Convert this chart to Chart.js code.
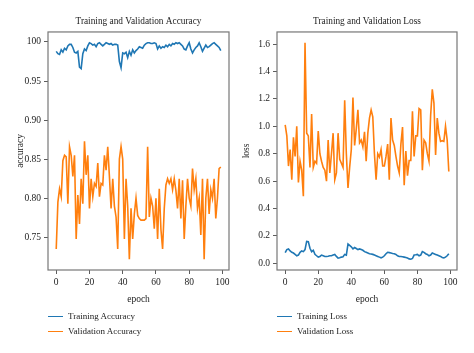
<!DOCTYPE html>
<html>
<head>
<meta charset="utf-8">
<script src="https://cdn.jsdelivr.net/npm/chart.js@4.4.1/dist/chart.umd.min.js"></script>
<style>
  body { margin: 0; background: #fff; }
  #page { position: relative; width: 474px; height: 353px; overflow: hidden; font-family: "Liberation Serif", "DejaVu Serif", serif; color: #222; }
  .pane { position: absolute; top: 0; width: 237px; height: 310px; }
  .legend { position: absolute; font-size: 9px; }
  .legend div { position: relative; height: 15px; line-height: 15px; white-space: nowrap; }
  .legend span.sw { display: inline-block; width: 15px; height: 0; border-top: 1.6px solid; vertical-align: middle; margin-right: 5px; }
</style>
</head>
<body>
<div id="page">
  <div class="pane" style="left:0"><canvas id="accChart" width="237" height="310"></canvas></div>
  <div class="pane" style="left:237px"><canvas id="lossChart" width="237" height="310"></canvas></div>
  <div class="legend" id="accLegend" style="left:48px; top:309px"></div>
  <div class="legend" id="lossLegend" style="left:277px; top:309px"></div>
</div>
<script>
const blue = "#1f77b4";
const orange = "#ff7f0e";

const epochs = Array.from({ length: 100 }, (_, i) => i);
const epochTicks = [0, 20, 40, 60, 80, 100];

const trainAcc = [
    0.988, 0.985, 0.984, 0.990, 0.987, 0.992, 0.990, 0.995, 0.997, 0.997,
    0.993, 0.987, 0.986, 0.988, 0.968, 0.966, 0.985, 0.991, 0.989, 0.995,
    0.999, 0.998, 0.996, 0.997, 0.994, 0.998, 0.999, 0.997, 0.995, 0.997,
    0.999, 0.998, 0.997, 0.998, 0.996, 0.997, 0.997, 0.996, 0.975, 0.967,
    0.986, 0.985, 0.987, 0.980, 0.988, 0.983, 0.990, 0.986, 0.989, 0.991,
    0.994, 0.993, 0.992, 0.996, 0.998, 0.999, 0.999, 0.998, 0.998, 0.999,
    0.998, 0.991, 0.995, 0.992, 0.994, 0.993, 0.996, 0.994, 0.997, 0.995,
    0.998, 0.997, 0.999, 0.998, 0.999, 0.997, 0.995, 0.991, 0.990, 0.995,
    0.999, 0.991, 0.986, 0.990, 0.993, 0.995, 0.999, 0.994, 0.988, 0.992,
    0.996, 0.993, 0.994, 0.996, 0.998, 0.999, 0.997, 0.995, 0.993, 0.989
];
const valAcc = [
    0.735, 0.795, 0.812, 0.802, 0.848, 0.855, 0.853, 0.793, 0.866, 0.855,
    0.828, 0.855, 0.748, 0.804, 0.767, 0.825, 0.793, 0.873, 0.830, 0.855,
    0.787, 0.825, 0.802, 0.819, 0.815, 0.845, 0.802, 0.819, 0.817, 0.855,
    0.836, 0.866, 0.828, 0.787, 0.825, 0.790, 0.776, 0.735, 0.850, 0.866,
    0.850, 0.748, 0.825, 0.790, 0.722, 0.787, 0.748, 0.780, 0.800, 0.778,
    0.774, 0.772, 0.772, 0.772, 0.774, 0.866, 0.776, 0.800, 0.790, 0.761,
    0.800, 0.748, 0.812, 0.760, 0.735, 0.787, 0.817, 0.825, 0.819, 0.825,
    0.811, 0.825, 0.810, 0.787, 0.825, 0.774, 0.823, 0.748, 0.790, 0.825,
    0.800, 0.790, 0.838, 0.811, 0.825, 0.787, 0.800, 0.753, 0.825, 0.722,
    0.800, 0.825, 0.780, 0.811, 0.800, 0.825, 0.774, 0.800, 0.838, 0.840
];
const accTicks = [0.75, 0.80, 0.85, 0.90, 0.95, 1.00];
const accTickLabels = ["0.75", "0.80", "0.85", "0.90", "0.95", "100"];

const trainLoss = [
    0.078, 0.100, 0.105, 0.090, 0.080, 0.075, 0.065, 0.055, 0.060, 0.080,
    0.090, 0.085, 0.100, 0.160, 0.158, 0.110, 0.085, 0.095, 0.065, 0.055,
    0.045, 0.050, 0.060, 0.055, 0.050, 0.050, 0.052, 0.055, 0.055, 0.060,
    0.065, 0.050, 0.038, 0.040, 0.045, 0.048, 0.065, 0.060, 0.140, 0.130,
    0.120, 0.105, 0.115, 0.108, 0.100, 0.105, 0.100, 0.095, 0.085, 0.080,
    0.075, 0.070, 0.068, 0.065, 0.060, 0.055, 0.050, 0.045, 0.040, 0.045,
    0.055, 0.070, 0.080, 0.078, 0.075, 0.072, 0.070, 0.065, 0.055, 0.050,
    0.050, 0.048, 0.045, 0.042, 0.038, 0.032, 0.030, 0.035, 0.060, 0.062,
    0.065, 0.055, 0.060, 0.085, 0.080, 0.070, 0.065, 0.055, 0.060, 0.075,
    0.070, 0.065, 0.060, 0.055, 0.050, 0.042, 0.040, 0.045, 0.055, 0.070
];
const valLoss = [
    1.01, 0.93, 0.71, 0.83, 0.61, 0.92, 0.78, 1.00, 0.59, 0.745,
    0.68, 0.49, 1.61, 0.95, 0.93, 0.70, 1.09, 0.70, 0.745, 0.73,
    0.965, 0.80, 0.745, 0.70, 0.68, 0.60, 0.90, 0.66, 0.80, 0.95,
    0.61, 0.66, 0.95, 0.76, 0.73, 0.70, 1.19, 0.80, 0.55, 0.70,
    0.83, 1.21, 0.86, 0.98, 1.12, 0.88, 0.90, 0.85, 0.96, 0.745,
    0.95, 1.06, 1.12, 1.07, 0.80, 0.61, 0.80, 0.775, 0.83, 0.71,
    0.71, 0.78, 0.87, 0.61, 1.06, 0.90, 0.86, 0.78, 0.71, 0.66,
    0.87, 0.995, 0.57, 0.82, 0.64, 0.75, 0.75, 1.11, 0.78, 0.93,
    0.93, 1.13, 1.12, 0.68, 0.90, 0.88, 0.80, 0.745, 1.08, 1.27,
    1.17, 0.79, 1.06, 0.95, 0.89, 0.895, 0.89, 1.00, 0.90, 0.67
];
const lossTicks = [0.0, 0.2, 0.4, 0.6, 0.8, 1.0, 1.2, 1.4, 1.6];
const lossTickLabels = ["0.0", "0.2", "0.4", "0.6", "0.8", "1.0", "1.2", "1.4", "1.6"];

const fontFamily = '"Liberation Serif", "DejaVu Serif", serif';
const textColor = "#222";

// matplotlib style 5% margins around the data
const withMargin = function (values) {
    const lo = Math.min(...values);
    const hi = Math.max(...values);
    const pad = (hi - lo) * 0.05;
    return { min: lo - pad, max: hi + pad };
};

// box around the plot area, title centred over the plot area like matplotlib
const frame = {
    id: "frame",
    afterLayout(chart) {
        const t = chart.titleBlock;
        if (t) {
            t.left = chart.chartArea.left;
            t.right = chart.chartArea.right;
            t.width = t.right - t.left;
        }
    },
    afterDraw(chart) {
        const a = chart.chartArea;
        const ctx = chart.ctx;
        ctx.save();
        ctx.strokeStyle = "#777";
        ctx.lineWidth = 1.2;
        ctx.strokeRect(a.left, a.top, a.right - a.left, a.bottom - a.top);
        ctx.restore();
    }
};

const makeChart = function (canvasId, cfg) {
    const yRange = withMargin(cfg.series[0].data.concat(cfg.series[1].data));
    const xRange = withMargin(epochs);
    const ctx = document.getElementById(canvasId).getContext("2d");
    return new Chart(ctx, {
        type: "line",
        data: {
            labels: epochs,
            datasets: cfg.series.map(s => ({
                label: s.label,
                data: epochs.map((e, i) => ({ x: e, y: s.data[i] })),
                borderColor: s.color,
                backgroundColor: s.color,
                borderWidth: 1.6,
                pointRadius: 0,
                tension: 0,
                fill: false
            }))
        },
        options: {
            responsive: false,
            animation: false,
            layout: { padding: { left: 0, right: cfg.padRight, top: 0, bottom: 0 } },
            plugins: {
                legend: { display: false },
                tooltip: { enabled: false },
                title: {
                    display: true,
                    text: cfg.title,
                    color: textColor,
                    font: { family: fontFamily, size: 9.3, weight: "normal" },
                    padding: { top: 16, bottom: 4.8 }
                }
            },
            scales: {
                x: {
                    type: "linear",
                    min: xRange.min,
                    max: xRange.max,
                    afterBuildTicks: (scale) => { scale.ticks = epochTicks.map(v => ({ value: v })); },
                    afterFit: (scale) => { scale.height = 40; },
                    border: { display: false },
                    grid: { drawOnChartArea: false, drawTicks: true, tickLength: 4, color: "#333", lineWidth: 0.8 },
                    ticks: { color: textColor, padding: 3, maxRotation: 0, font: { family: fontFamily, size: 9.5 } },
                    title: {
                        display: true,
                        text: "epoch",
                        color: textColor,
                        font: { family: fontFamily, size: 9.5 },
                        padding: { top: 0, bottom: 5 }
                    }
                },
                y: {
                    type: "linear",
                    min: yRange.min,
                    max: yRange.max,
                    afterBuildTicks: (scale) => { scale.ticks = cfg.ticks.map(v => ({ value: v })); },
                    afterFit: (scale) => { scale.width = cfg.yWidth; },
                    border: { display: false },
                    grid: { drawOnChartArea: false, drawTicks: true, tickLength: 4, color: "#333", lineWidth: 0.8 },
                    ticks: {
                        color: textColor,
                        padding: 3,
                        font: { family: fontFamily, size: 9.5 },
                        callback: (value) => {
                            const idx = cfg.ticks.findIndex(t => Math.abs(t - value) < 1e-6);
                            return idx >= 0 ? cfg.tickLabels[idx] : "";
                        }
                    },
                    title: {
                        display: true,
                        text: cfg.yTitle,
                        color: textColor,
                        font: { family: fontFamily, size: 9.5 },
                        padding: { top: cfg.yTitlePad, bottom: 0 }
                    }
                }
            }
        },
        plugins: [frame]
    });
};

const buildLegend = function (id, series) {
    const box = document.getElementById(id);
    series.forEach(s => {
        const row = document.createElement("div");
        const sw = document.createElement("span");
        sw.className = "sw";
        sw.style.borderColor = s.color;
        row.appendChild(sw);
        row.appendChild(document.createTextNode(s.label));
        box.appendChild(row);
    });
};

const accSeries = [
    { label: "Training Accuracy", data: trainAcc, color: blue },
    { label: "Validation Accuracy", data: valAcc, color: orange }
];
const lossSeries = [
    { label: "Training Loss", data: trainLoss, color: blue },
    { label: "Validation Loss", data: valLoss, color: orange }
];

window.onload = () => {
    makeChart("accChart", {
        title: "Training and Validation Accuracy",
        yTitle: "accuracy",
        series: accSeries,
        ticks: accTicks,
        tickLabels: accTickLabels,
        yWidth: 48,
        yTitlePad: 15,
        padRight: 8
    });
    makeChart("lossChart", {
        title: "Training and Validation Loss",
        yTitle: "loss",
        series: lossSeries,
        ticks: lossTicks,
        tickLabels: lossTickLabels,
        yWidth: 40,
        yTitlePad: 4,
        padRight: 17
    });
    buildLegend("accLegend", accSeries);
    buildLegend("lossLegend", lossSeries);
};
</script>
</body>
</html>
